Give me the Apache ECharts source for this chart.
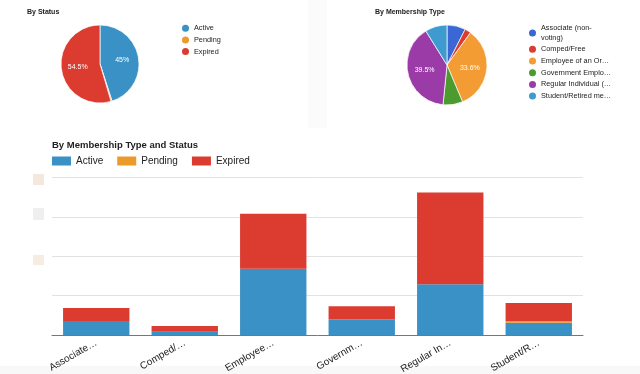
<!DOCTYPE html>
<html>
<head>
<meta charset="utf-8">
<script src="https://cdn.jsdelivr.net/npm/echarts@6/dist/echarts.min.js"></script>
<style>
  html, body { margin: 0; padding: 0; background: #ffffff; }
  #chart { width: 640px; height: 374px; }
</style>
</head>
<body>
<div id="chart"></div>
<script>
// ---- Data ----
const statusNames = ['Active', 'Pending', 'Expired'];
const statusColors = ['#3a91c5', '#ec9a2a', '#dc3b30'];

const typeLegendNames = ['Associate (non-voting)', 'Comped/Free', 'Employee of an Or…', 'Government Emplo…', 'Regular Individual (…', 'Student/Retired me…'];
const typeColors = ['#3a67d4', '#dc3b30', '#f39c33', '#4b9b2f', '#9b3ba8', '#3e9bcf'];

const barCategories = ['Associate…', 'Comped/…', 'Employee…', 'Governm…', 'Regular In…', 'Student/R…'];
const activeValues  = [17, 4, 81, 19, 62, 15];
const pendingValues = [0, 0, 0, 0, 0, 2];
const expiredValues = [16, 7, 67, 16, 112, 22];

// ---- Derived (pie data built from the bar arrays) ----
const sum = a => a.reduce((s, v) => s + v, 0);
const statusValues = [sum(activeValues), sum(pendingValues), sum(expiredValues)];
const typeValues = barCategories.map((_, i) => activeValues[i] + pendingValues[i] + expiredValues[i]);

function pctFormatter(values) {
  const total = sum(values);
  return function (p) {
    const pct = p.value / total * 100;
    if (pct < 10) return '';
    return (Math.round(pct * 10) / 10) + '%';
  };
}

const FONT = '"Liberation Sans", Arial, sans-serif';
const chart = echarts.init(document.getElementById('chart'));

const option = {
  animation: false,
  textStyle: { fontFamily: FONT },
  graphic: [
    { type: 'rect', shape: { x: 308, y: 0, width: 19, height: 128 }, style: { fill: '#fbfbfb' }, silent: true, z: -10 },
    { type: 'rect', shape: { x: 33, y: 174, width: 11, height: 11 }, style: { fill: '#f4e8dc' }, silent: true },
    { type: 'rect', shape: { x: 33, y: 208, width: 11, height: 12 }, style: { fill: '#efefef' }, silent: true },
    { type: 'rect', shape: { x: 33, y: 255, width: 11, height: 10 }, style: { fill: '#f6ece2' }, silent: true },
    { type: 'rect', shape: { x: 0, y: 366, width: 640, height: 8 }, style: { fill: '#f8f8f8' }, silent: true, z: -10 }
  ],
  title: [
    { text: 'By Status', left: 27, top: 9, padding: 0,
      textStyle: { fontSize: 7, fontWeight: 'bold', color: '#222', fontFamily: FONT } },
    { text: 'By Membership Type', left: 375, top: 9, padding: 0,
      textStyle: { fontSize: 7, fontWeight: 'bold', color: '#222', fontFamily: FONT } },
    { text: 'By Membership Type and Status', left: 52, top: 140, padding: 0,
      textStyle: { fontSize: 9.5, fontWeight: 'bold', color: '#222', fontFamily: FONT } }
  ],
  legend: [
    { data: statusNames, orient: 'vertical', left: 182, top: 23.5, padding: 0,
      icon: 'circle', itemWidth: 7, itemHeight: 7, itemGap: 2.3,
      itemStyle: { borderWidth: 0 },
      textStyle: { fontSize: 7.3, lineHeight: 9.4, color: '#222', fontFamily: FONT } },
    { data: typeLegendNames, orient: 'vertical', left: 529, top: 23.5, padding: 0,
      icon: 'circle', itemWidth: 7, itemHeight: 7, itemGap: 2.3,
      itemStyle: { borderWidth: 0 },
      formatter: n => n.replace('(non-', '(non-\n'),
      textStyle: { fontSize: 7.3, lineHeight: 9.4, color: '#222', fontFamily: FONT } },
    { data: statusNames, orient: 'horizontal', left: 52, top: 155, padding: 0,
      icon: 'rect', itemWidth: 19, itemHeight: 9, itemGap: 14,
      itemStyle: { borderWidth: 0 },
      textStyle: { fontSize: 10, lineHeight: 12, color: '#222', fontFamily: FONT } }
  ],
  grid: { left: 52, right: 57, top: 177.7, bottom: 39, containLabel: false, outerBoundsMode: 'none' },
  xAxis: {
    type: 'category',
    data: barCategories,
    axisLine: { lineStyle: { color: '#777', width: 1 } },
    axisTick: { show: false },
    axisLabel: { rotate: 30, fontSize: 10, color: '#222', margin: 7, interval: 0, fontFamily: FONT }
  },
  yAxis: {
    type: 'value',
    min: 0, max: 192, interval: 48,
    axisLabel: { show: false },
    axisLine: { show: false },
    axisTick: { show: false },
    splitLine: { lineStyle: { color: '#e2e2e2', width: 1 } }
  },
  series: [
    { name: 'Active', type: 'bar', stack: 'total', data: activeValues, barWidth: '75%',
      itemStyle: { color: statusColors[0] } },
    { name: 'Pending', type: 'bar', stack: 'total', data: pendingValues, barWidth: '75%',
      itemStyle: { color: statusColors[1] } },
    { name: 'Expired', type: 'bar', stack: 'total', data: expiredValues, barWidth: '75%',
      itemStyle: { color: statusColors[2] } },
    { name: 'By Status', type: 'pie', center: [100, 64], radius: 39, startAngle: 90, clockwise: true,
      data: statusNames.map((n, i) => ({ name: n, value: statusValues[i], itemStyle: { color: statusColors[i] } })),
      itemStyle: { borderColor: '#ffffff', borderWidth: 0.7 },
      label: { position: 'inside', color: '#fff', fontSize: 7, fontFamily: FONT, formatter: pctFormatter(statusValues) },
      labelLine: { show: false }, emphasis: { disabled: true } },
    { name: 'By Membership Type', type: 'pie', center: [447, 65], radius: 40, startAngle: 90, clockwise: true,
      data: typeLegendNames.map((n, i) => ({ name: n, value: typeValues[i], itemStyle: { color: typeColors[i] } })),
      itemStyle: { borderColor: '#ffffff', borderWidth: 0.7 },
      label: { position: 'inside', color: '#fff', fontSize: 7, fontFamily: FONT, formatter: pctFormatter(typeValues) },
      labelLine: { show: false }, emphasis: { disabled: true } }
  ]
};
chart.setOption(option);
</script>
</body>
</html>
